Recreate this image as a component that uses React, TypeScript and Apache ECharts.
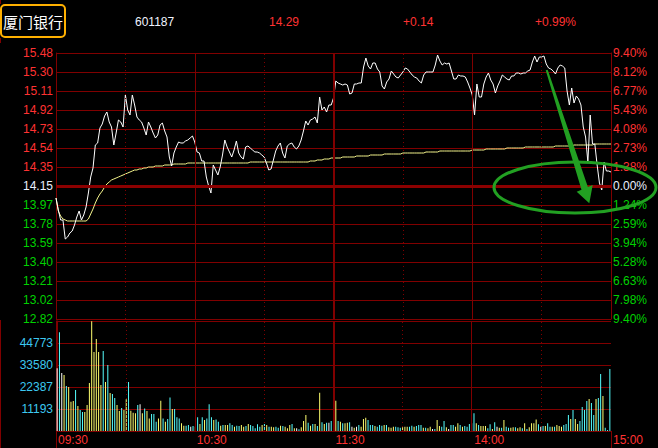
import React, { useEffect, useRef } from "react";
import * as echarts from "echarts";

const stockName = "厦门银行";
const stockCode = "601187";
const lastPrice = "14.29";
const changeText = "+0.14";
const changePct = "+0.99%";
const PREV_CLOSE = 14.15;

const priceLabels = ["15.48", "15.30", "15.11", "14.92", "14.73", "14.54", "14.35", "14.15", "13.97", "13.78", "13.59", "13.40", "13.21", "13.02", "12.82"];
const pctLabels = ["9.40%", "8.12%", "6.77%", "5.43%", "4.08%", "2.73%", "1.38%", "0.00%", "1.24%", "2.59%", "3.94%", "5.28%", "6.63%", "7.98%", "9.40%"];
const volLabels = ["11193", "22387", "33580", "44773"];
const timeLabels = ["09:30", "10:30", "11:30", "14:00", "15:00"];

const prices = [
  14.03, 13.91, 13.81, 13.81, 13.62, 13.64, 13.68, 13.70, 13.76, 13.84,
  13.90, 13.81, 13.86, 13.94, 14.08, 14.24, 14.33, 14.56, 14.58, 14.73,
  14.77, 14.85, 14.89, 14.79, 14.74, 14.56, 14.68, 14.81, 14.79, 14.74,
  15.06, 14.91, 14.86, 15.06, 14.96, 14.84, 14.81, 14.79, 14.73, 14.66,
  14.79, 14.74, 14.68, 14.63, 14.66, 14.76, 14.78, 14.70, 14.64, 14.44,
  14.35, 14.48, 14.54, 14.59, 14.58, 14.58, 14.60, 14.61, 14.63, 14.65,
  14.59, 14.49, 14.48, 14.40, 14.40, 14.24, 14.15, 14.08, 14.36, 14.31,
  14.26, 14.34, 14.46, 14.61, 14.54, 14.49, 14.44, 14.51, 14.60, 14.48,
  14.44, 14.42, 14.54, 14.55, 14.53, 14.51, 14.49, 14.49, 14.48, 14.46,
  14.44, 14.38, 14.31, 14.32, 14.41, 14.50, 14.55, 14.58, 14.48, 14.43,
  14.55, 14.57, 14.58, 14.54, 14.52, 14.55, 14.61, 14.70, 14.80, 14.76,
  14.81, 14.82, 14.84, 14.78, 15.04, 14.91, 14.94, 14.89, 14.96, 14.96,
  15.03, 15.20, 15.18, 15.17, 15.16, 15.17, 15.16, 15.07, 15.08, 15.17,
  15.17, 15.18, 15.18, 15.34, 15.43, 15.35, 15.32, 15.38, 15.38, 15.32,
  15.29, 15.15, 15.12, 15.19, 15.22, 15.30, 15.27, 15.24, 15.23, 15.26,
  15.29, 15.33, 15.32, 15.29, 15.26, 15.24, 15.23, 15.20, 15.18, 15.26,
  15.29, 15.29, 15.29, 15.29, 15.36, 15.46, 15.40, 15.36, 15.38, 15.37,
  15.38, 15.30, 15.22, 15.22, 15.26, 15.25, 15.25, 15.24, 15.19, 15.13,
  15.06, 14.86, 15.17, 15.04, 15.04, 15.17, 15.24, 15.28, 15.21, 15.17,
  15.08, 15.15, 15.20, 15.26, 15.24, 15.22, 15.21, 15.25, 15.25, 15.28,
  15.28, 15.27, 15.28, 15.28, 15.30, 15.31, 15.39, 15.45, 15.39, 15.44,
  15.44, 15.45, 15.37, 15.33, 15.32, 15.30, 15.27, 15.33, 15.36, 15.35,
  15.33, 15.10, 14.96, 15.13, 14.98, 15.05, 15.02, 14.96, 14.74, 14.64,
  14.39, 14.86, 14.57, 14.57, 14.36, 14.18, 14.11, 14.39, 14.30, 14.30, 14.29,
];

const avgPrices = [
  14.03, 13.90, 13.85, 13.82, 13.81, 13.80, 13.80, 13.80, 13.80, 13.80, 13.80, 13.80, 13.80, 13.80,
  13.82, 13.87, 13.92, 13.98, 14.03, 14.07, 14.10, 14.14, 14.17, 14.19, 14.21, 14.22, 14.23, 14.24, 14.25, 14.26, 14.27, 14.28, 14.29, 14.30, 14.31,
  14.31, 14.32, 14.32, 14.33, 14.33, 14.34, 14.34, 14.34, 14.35, 14.35, 14.35, 14.35, 14.36, 14.36, 14.36, 14.36, 14.37, 14.37, 14.37, 14.37, 14.37, 14.37, 14.38, 14.38, 14.38,
  14.38, 14.38, 14.38, 14.38, 14.38, 14.38, 14.38, 14.38, 14.38, 14.38, 14.38, 14.38, 14.38, 14.38, 14.38, 14.38, 14.38, 14.38, 14.38, 14.38, 14.38, 14.38, 14.38, 14.38,
  14.39, 14.39, 14.39, 14.39, 14.39, 14.39, 14.39, 14.39, 14.39, 14.39, 14.39, 14.39, 14.39, 14.39, 14.39, 14.39, 14.39, 14.39, 14.39, 14.39, 14.39, 14.39, 14.39, 14.39, 14.39, 14.39,
  14.40, 14.40, 14.40, 14.41, 14.41, 14.41, 14.42, 14.42, 14.42, 14.43, 14.43,
  14.43, 14.43, 14.43, 14.44, 14.44, 14.44, 14.44, 14.44, 14.44, 14.45, 14.45, 14.45, 14.45, 14.45,
  14.45, 14.46, 14.46, 14.46, 14.46, 14.46, 14.46, 14.47, 14.47, 14.47, 14.47, 14.47, 14.47, 14.47, 14.47, 14.48, 14.48, 14.48, 14.48, 14.48, 14.48, 14.48,
  14.48, 14.48, 14.48, 14.49, 14.49, 14.49, 14.49, 14.49, 14.49, 14.50, 14.50, 14.50, 14.50, 14.50,
  14.50, 14.50, 14.50, 14.50, 14.50, 14.50, 14.50, 14.50, 14.50, 14.51, 14.51, 14.51, 14.51, 14.51, 14.51, 14.52, 14.52, 14.52, 14.52,
  14.52, 14.52, 14.52, 14.52, 14.52, 14.53, 14.53, 14.53, 14.53, 14.53, 14.53, 14.53, 14.53, 14.54, 14.54, 14.54, 14.54, 14.54, 14.54, 14.54, 14.54,
  14.54, 14.54, 14.54, 14.54, 14.54, 14.55, 14.55, 14.55, 14.55, 14.55, 14.55, 14.55, 14.55, 14.56, 14.56, 14.56, 14.56, 14.56, 14.56, 14.56, 14.56, 14.56,
  14.57, 14.57, 14.57, 14.57, 14.57, 14.57, 14.57, 14.57,
];

const volumes = [
  31900, 50200, 29500, 28500, 22900, 22400, 14900, 15300, 20900, 12700,
  10700, 9700, 9700, 13200, 24400, 55900, 40200, 46800, 40200, 23400,
  40700, 24900, 33600, 19300, 18800, 16800, 13200, 10200, 11700, 10700,
  16100, 24900, 10300, 9300, 9000, 13200, 13600, 9000, 11500, 10200,
  6400, 8600, 8600, 4700, 6400, 15400, 6400, 4700, 6100, 17100,
  11200, 11200, 7000, 6400, 3900, 2700, 2700, 3100, 2200, 2500,
  2200, 7000, 3600, 7000, 5600, 6300, 13600, 7000, 5600, 5900,
  4700, 2700, 3100, 3100, 3100, 3900, 3100, 2200, 2700, 2500,
  3100, 2200, 2500, 3600, 3100, 2500, 1400,
  3400, 2200, 3100, 3600, 3100, 2200, 2200, 1900, 2200, 1700, 2700,
  2500, 2200, 1400, 3100, 3600, 1400, 1400, 850, 1900, 5100, 8100, 4200, 2700, 3600, 3600, 2500, 19500, 4400, 3600, 4200,
  4200, 5100, 4200,
  15400, 5100, 4700, 3900, 3900, 4200, 4400, 2200, 1700, 2200,
  3100, 2200, 6100, 6800, 5600, 3100, 3100, 2500, 2200, 3100,
  2700, 3100, 3100, 1900, 1700, 2200, 2200, 1900, 1700, 1900,
  2200, 2200, 2200, 2700, 2200, 2500, 3100, 3100, 1700, 1700,
  1400, 2200, 1000, 1000, 5600, 2500, 2200, 5100, 1900, 1000,
  3100, 3100, 2200, 3900, 3100, 2200, 2500, 2200, 3600, 3900,
  9000, 3900, 3100, 2500, 2500, 2500, 1400, 3400, 1000, 4400,
  2200, 1700, 1700, 5600, 2200, 1700, 1700, 1900, 1900, 1400,
  1900, 1400, 3900, 1000, 1900, 3900, 3900, 5900, 3400, 2200,
  2500, 2500, 3900, 2200, 2200, 2200, 3100, 2500, 2200, 3100,
  3600, 8100, 6100, 10700, 6100, 3600, 5100, 12200, 10700, 15300,
  16300, 14200, 8100, 16300, 16800, 29000, 17800, 1700, 500, 31500,
];

// 1 = uptick (yellow), -1 = downtick (cyan), 0 = unchanged (white)
const volumeTicks = [
  0, -1, 0, 1, -1, 1, 1, 1, -1, 1,
  -1, -1, 1, 1, 1, 1, 1, 1, 1, 1,
  -1, 1, -1, 1, -1, -1, 1, 1, -1, 1,
  1, -1, 1, 1, 1, -1, 0, 1, -1, 1,
  1, -1, -1, -1, 1, 1, -1, 1, -1, -1,
  1, -1, -1, -1, 1, 1, -1, -1, 0, -1,
  1, -1, 1, -1, 1, -1, -1, -1, 1, -1,
  -1, 1, -1, 1, 1, -1, -1, 1, -1, -1,
  1, 1, -1, 1, -1, -1, -1,
  -1, -1, 1, -1, 1, -1, 1, 1, -1, -1, 1,
  -1, 1, 1, 1, -1, 1, 0, -1, 1, 1, 1, -1, 1, -1, 1, -1, 1, -1, 1, -1,
  0, -1, 1,
  1, -1, 1, -1, 1, 1, -1, 0, 1, 0,
  -1, 1, 1, 1, -1, -1, -1, 1, -1, -1,
  -1, 1, -1, 1, 1, 1, -1, -1, -1, 1,
  1, 1, -1, -1, 1, -1, -1, -1, 1, -1,
  1, 1, 0, -1, 1, 1, -1, -1, 1, 0,
  -1, -1, 1, 1, -1, 1, -1, -1, -1, -1,
  -1, 1, -1, 1, 1, 1, -1, -1, 1, -1,
  0, 1, -1, 1, -1, -1, 1, 1, -1, 1,
  1, -1, 1, -1, 1, 1, 1, 1, -1, 0,
  -1, 1, -1, -1, 1, -1, 1, 1, 1, -1,
  -1, -1, 1, -1, 1, 1, -1, -1, -1, -1,
  1, -1, -1, 1, -1, -1, 1, -1, -1, -1,
];

const FONT = 'Arial, "Liberation Sans", sans-serif';
const GRID_RED = "#800000";
const UP_RED = "#FF3232";
const DOWN_GREEN = "#00D200";
const FLAT_WHITE = "#E8F0FF";
const VOL_BLUE = "#3CC8F0";
const ANNOT_GREEN = "#22A022";
const PRICE_STEP = 19; // cents between grid rows
const VOL_STEP = 11193.25;

const tickColor = (t: number) => (t > 0 ? "#FFFF70" : t < 0 ? "#55FFFF" : "#FFFFFF");

function buildOption() {
  const vLine = (x: number, kind: "dot" | "solid" | "thick") => ({
    xAxis: x,
    lineStyle: {
      color: GRID_RED,
      width: kind === "thick" ? 2 : 1,
      type: kind === "dot" ? [1, 3] : "solid",
    },
  });
  const verticals = [
    vLine(30, "dot"),
    vLine(60, "solid"),
    vLine(90, "dot"),
    vLine(120, "thick"),
    vLine(150, "dot"),
    vLine(180, "solid"),
    vLine(210, "dot"),
  ];
  const rich = {
    u: { color: UP_RED, fontSize: 12, fontFamily: FONT },
    z: { color: FLAT_WHITE, fontSize: 12, fontFamily: FONT },
    d: { color: DOWN_GREEN, fontSize: 12, fontFamily: FONT },
  };
  const rowIndex = (v: number) => 7 - Math.round(v / PRICE_STEP);
  const richTag = (idx: number) => (idx < 7 ? "u" : idx === 7 ? "z" : "d");

  return {
    backgroundColor: "#000",
    animation: false,
    grid: [
      { left: 56, top: 53, width: 555, height: 266 },
      { left: 56, top: 321, width: 555, height: 110 },
    ],
    xAxis: [
      { type: "value", gridIndex: 0, position: "bottom", min: 0, max: 240, show: false },
      { type: "value", gridIndex: 1, position: "bottom", min: -0.5, max: 240.5, show: false },
      {
        type: "value",
        gridIndex: 1,
        position: "bottom",
        min: 0,
        max: 240,
        interval: 60,
        axisLine: { show: false },
        axisTick: { show: false },
        splitLine: { show: false },
        axisLabel: {
          show: true,
          color: UP_RED,
          fontSize: 12,
          fontFamily: FONT,
          align: "left",
          margin: 3,
          padding: [0, 0, 0, 2],
          showMinLabel: true,
          showMaxLabel: true,
          formatter: (v: number) => timeLabels[Math.round(v / 60)] ?? "",
        },
      },
    ],
    yAxis: [
      {
        type: "value",
        gridIndex: 0,
        position: "left",
        min: -7 * PRICE_STEP,
        max: 7 * PRICE_STEP,
        interval: PRICE_STEP,
        axisLine: { show: true, lineStyle: { color: GRID_RED } },
        axisTick: { show: false },
        splitLine: { show: true, lineStyle: { color: GRID_RED, width: 1 } },
        axisLabel: {
          margin: 3,
          showMinLabel: true,
          showMaxLabel: true,
          rich,
          formatter: (v: number) => {
            const i = rowIndex(v);
            return `{${richTag(i)}|${priceLabels[i]}}`;
          },
        },
      },
      {
        type: "value",
        gridIndex: 0,
        position: "right",
        min: -7 * PRICE_STEP,
        max: 7 * PRICE_STEP,
        interval: PRICE_STEP,
        axisLine: { show: true, lineStyle: { color: GRID_RED } },
        axisTick: { show: false },
        splitLine: { show: false },
        axisLabel: {
          margin: 2,
          showMinLabel: true,
          showMaxLabel: true,
          rich,
          formatter: (v: number) => {
            const i = rowIndex(v);
            return `{${richTag(i)}|${pctLabels[i]}}`;
          },
        },
      },
      {
        type: "value",
        gridIndex: 1,
        position: "left",
        min: 0,
        max: 5 * VOL_STEP,
        interval: VOL_STEP,
        axisLine: { show: true, lineStyle: { color: GRID_RED } },
        axisTick: { show: false },
        splitLine: { show: true, lineStyle: { color: GRID_RED, width: 1 } },
        axisLabel: {
          margin: 3,
          color: VOL_BLUE,
          fontSize: 12,
          fontFamily: FONT,
          showMinLabel: true,
          showMaxLabel: true,
          formatter: (v: number) => {
            const i = Math.round(v / VOL_STEP);
            return i >= 1 && i <= 4 ? volLabels[i - 1] : "";
          },
        },
      },
      {
        type: "value",
        gridIndex: 1,
        position: "right",
        min: 0,
        max: 5 * VOL_STEP,
        interval: VOL_STEP,
        axisLine: { show: true, lineStyle: { color: GRID_RED } },
        axisTick: { show: false },
        splitLine: { show: false },
        axisLabel: { show: false },
      },
    ],
    series: [
      {
        name: "avg",
        type: "line",
        xAxisIndex: 0,
        yAxisIndex: 0,
        z: 2,
        showSymbol: false,
        silent: true,
        data: avgPrices.map((p, i) => [i, (p - PREV_CLOSE) * 100]),
        lineStyle: { color: "#F4F48C", width: 1 },
        markLine: {
          silent: true,
          symbol: ["none", "none"],
          label: { show: false },
          data: [
            ...verticals,
            { yAxis: 0, lineStyle: { color: "#8C0000", width: 3, type: "solid" } },
          ],
        },
      },
      {
        name: "price",
        type: "line",
        xAxisIndex: 0,
        yAxisIndex: 0,
        z: 3,
        showSymbol: false,
        silent: true,
        data: prices.map((p, i) => [i, (p - PREV_CLOSE) * 100]),
        lineStyle: { color: "#FFFFFF", width: 1 },
      },
      {
        name: "volume",
        type: "bar",
        xAxisIndex: 1,
        yAxisIndex: 2,
        barWidth: 1,
        silent: true,
        data: volumes.map((v, i) => ({
          value: [i, v],
          itemStyle: { color: tickColor(volumeTicks[i]) },
        })),
        markLine: {
          silent: true,
          symbol: ["none", "none"],
          label: { show: false },
          data: verticals,
        },
      },
    ],
    graphic: [
      { type: "line", shape: { x1: 0.5, y1: 0, x2: 0.5, y2: 4 }, style: { stroke: GRID_RED, lineWidth: 1 } },
      { type: "line", shape: { x1: 0.5, y1: 38, x2: 0.5, y2: 43 }, style: { stroke: GRID_RED, lineWidth: 1 } },
      { type: "line", shape: { x1: 0.5, y1: 320, x2: 0.5, y2: 448 }, style: { stroke: GRID_RED, lineWidth: 1 } },
      { type: "line", shape: { x1: 56.5, y1: 431, x2: 56.5, y2: 448 }, style: { stroke: GRID_RED, lineWidth: 1 } },
      { type: "line", shape: { x1: 611.5, y1: 431, x2: 611.5, y2: 448 }, style: { stroke: GRID_RED, lineWidth: 1 } },
      {
        type: "rect",
        z: 100,
        shape: { x: 1, y: 5, width: 64, height: 32, r: 4 },
        style: { fill: "#000", stroke: "#FFB000", lineWidth: 2 },
      },
      {
        type: "text",
        z: 101,
        x: 33,
        y: 21,
        style: { text: stockName, fill: "#FFFFFF", font: '15px "Noto Sans CJK SC"', align: "center", verticalAlign: "middle" },
      },
      { type: "text", x: 135, y: 22, style: { text: stockCode, fill: "#F0F4FF", font: `12px ${FONT}`, align: "left", verticalAlign: "middle" } },
      { type: "text", x: 269, y: 22, style: { text: lastPrice, fill: UP_RED, font: `12px ${FONT}`, align: "left", verticalAlign: "middle" } },
      { type: "text", x: 403, y: 22, style: { text: changeText, fill: UP_RED, font: `12px ${FONT}`, align: "left", verticalAlign: "middle" } },
      { type: "text", x: 535, y: 22, style: { text: changePct, fill: UP_RED, font: `12px ${FONT}`, align: "left", verticalAlign: "middle" } },
      {
        type: "ellipse",
        z: 200,
        shape: { cx: 575, cy: 187.5, rx: 81, ry: 25.5 },
        style: { fill: "none", stroke: ANNOT_GREEN, lineWidth: 3 },
      },
      {
        type: "polygon",
        z: 200,
        shape: {
          points: [
            [547.7, 69.7],
            [587.9, 187.0],
            [592.7, 185.0],
            [589.3, 203.3],
            [576.7, 191.7],
            [581.5, 189.8],
            [545.7, 70.3],
          ],
        },
        style: { fill: ANNOT_GREEN },
      },
    ],
  };
}

export default function App() {
  const ref = useRef<HTMLDivElement>(null);
  useEffect(() => {
    document.body.style.margin = "0";
    document.body.style.background = "#000";
    const chart = echarts.init(ref.current as HTMLDivElement, null, { renderer: "svg" });
    chart.setOption(buildOption() as any);
    return () => chart.dispose();
  }, []);
  return <div ref={ref} style={{ width: 658, height: 448, background: "#000" }} />;
}
